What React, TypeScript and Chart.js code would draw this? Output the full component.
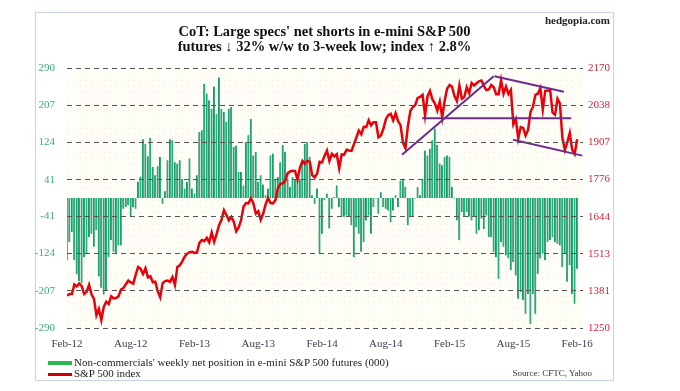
import { useEffect, useRef } from 'react';
import { Chart, registerables } from 'chart.js';

Chart.register(...registerables);

// Week index 0 = week of 21 Feb 2012, one point per week to 16 Feb 2016
const X_TICK_WEEKS = [0, 26, 52, 78, 104, 130, 156, 182, 208];
const X_TICK_LABELS = ['Feb-12', 'Aug-12', 'Feb-13', 'Aug-13', 'Feb-14', 'Aug-14', 'Feb-15', 'Aug-15', 'Feb-16'];
const LEFT_TICKS = [290, 207, 124, 41, -41, -124, -207, -290];
const RIGHT_TICKS = [2170, 2038, 1907, 1776, 1644, 1513, 1381, 1250];

// Non-commercials' weekly net position (000 contracts)
const NET_POSITION = [
  -139, -98, -76, -139, -170, -185, -190, -132, -125, -87,
  -80, -109, -72, -175, -200, -215, -205, -132, -94, -120,
  -124, -106, -106, -24, -20, -16, -42, -20, -24, 36,
  48, 131, 121, 93, 134, 69, 51, 71, 92, -13,
  15, 84, 131, 129, 80, 77, 84, 43, 21, 36,
  88, 21, 10, 51, 147, 151, 255, 233, 218, 199,
  249, 188, 269, 199, 192, 170, 199, 203, 114, 117,
  58, 58, 28, 125, 140, 177, 95, 103, 36, 51,
  30, 6, 21, 95, 99, 43, 47, 80, 118, 103,
  43, 25, 47, 40, 39, 43, 84, 121, 125, 92,
  6, -13, 21, -124, -80, -5, 10, -68, -24, 2,
  28, -20, -42, -42, -39, -42, -61, -132, -65, -80,
  -120, -98, -50, -39, -80, -20, -1, -35, 13, -20,
  -24, -28, -54, -28, 6, -20, 39, 43, 25, -61,
  -42, -42, -1, 25, 6, 43, 106, 95, 110, 129,
  155, 118, 77, 73, 92, 95, 92, 25, -1, -50,
  -94, -31, -42, -31, -42, -50, -42, -80, -72, -46,
  -69, -39, -87, -87, -120, -132, -180, -98, -109, -128,
  -135, -161, -143, -173, -225, -210, -228, -258, -214, -281,
  -214, -258, -169, -135, -124, -139, -98, -94, -87, -98,
  -102, -106, -154, -124, -187, -150, -214, -236, -158,
];

// S&P 500 index, weekly
const SP500 = [
  1365, 1370, 1370, 1404, 1397, 1408, 1398, 1370, 1378, 1403,
  1369, 1353, 1295, 1318, 1278, 1325, 1343, 1335, 1362, 1355,
  1356, 1362, 1386, 1391, 1405, 1418, 1411, 1407, 1438, 1466,
  1460, 1441, 1461, 1429, 1433, 1412, 1414, 1380, 1359, 1409,
  1416, 1418, 1413, 1430, 1402, 1466, 1472, 1486, 1503, 1513,
  1518, 1520, 1516, 1518, 1551, 1561, 1557, 1569, 1553, 1588,
  1555, 1582, 1614, 1633, 1667, 1650, 1631, 1643, 1626, 1592,
  1606, 1632, 1680, 1692, 1691, 1709, 1691, 1655, 1663, 1633,
  1655, 1688, 1710, 1692, 1691, 1703, 1745, 1760, 1762, 1771,
  1798, 1804, 1806, 1805, 1775, 1818, 1841, 1831, 1842, 1838,
  1790, 1783, 1797, 1838, 1836, 1859, 1878, 1841, 1866, 1857,
  1865, 1815, 1864, 1863, 1881, 1878, 1877, 1900, 1924, 1949,
  1936, 1962, 1961, 1985, 1967, 1978, 1978, 1925, 1931, 1955,
  1988, 2003, 2008, 1985, 2010, 1982, 1968, 1906, 1886, 1964,
  2018, 2032, 2039, 2064, 2068, 2075, 2002, 2070, 2089, 2059,
  2045, 2019, 2051, 1995, 2055, 2097, 2110, 2104, 2071, 2053,
  2108, 2061, 2067, 2102, 2081, 2117, 2108, 2116, 2123, 2126,
  2107, 2092, 2094, 2110, 2102, 2077, 2077, 2127, 2079, 2104,
  2078, 2092, 1971, 1989, 1921, 1961, 1958, 1931, 1951, 2015,
  2033, 2075, 2079, 2099, 2023, 2089, 2090, 2092, 2012, 2005,
  2061, 2044, 1922, 1880, 1907, 1940, 1880, 1865, 1918,
];

// Purple trend lines drawn on the index: [week, index level]
const TREND_RISING = [[136.6, 1863], [174.0, 2141]];
const TREND_UPPER = [[174.3, 2141], [202.6, 2086]];
const TREND_FLAT = [[144.8, 1992], [205.6, 1992]];
const TREND_LOWER = [[181.9, 1916], [210.1, 1860]];

const GREEN = '#2aae7d';
const RED = '#e8000b';
const PURPLE = '#6a2c91';
const SERIF = "'Liberation Serif', 'Times New Roman', serif";

const bgPlugin = {
  id: 'dottedBg',
  beforeDraw(chart: any) {
    const { ctx, chartArea: a } = chart;
    const pc = document.createElement('canvas');
    pc.width = 6;
    pc.height = 6;
    const p = pc.getContext('2d')!;
    p.fillStyle = '#fefdf7';
    p.fillRect(0, 0, 6, 6);
    p.fillStyle = '#f0ecd6';
    p.fillRect(2, 2, 1, 1);
    ctx.save();
    ctx.fillStyle = ctx.createPattern(pc, 'repeat');
    ctx.fillRect(a.left, a.top, a.right - a.left, a.bottom - a.top);
    ctx.restore();
  },
};

function trend(points: number[][]) {
  return {
    type: 'line' as const,
    data: points.map(([x, y]) => ({ x, y })),
    yAxisID: 'y2',
    borderColor: PURPLE,
    borderWidth: 2,
    pointRadius: 0,
    order: 0,
  };
}

export default function App() {
  const ref = useRef<HTMLCanvasElement>(null);

  useEffect(() => {
    if (!ref.current) return;
    const chart = new Chart(ref.current, {
      type: 'bar',
      data: {
        datasets: [
          trend(TREND_RISING),
          trend(TREND_UPPER),
          trend(TREND_FLAT),
          trend(TREND_LOWER),
          {
            type: 'line',
            label: 'S&P 500 index',
            data: SP500.map((v, i) => ({ x: i, y: v })),
            yAxisID: 'y2',
            borderColor: RED,
            borderWidth: 2.5,
            pointRadius: 0,
            tension: 0,
            order: 1,
          },
          {
            type: 'bar',
            label: "Non-commercials' weekly net position in e-mini S&P 500 futures (000)",
            data: NET_POSITION.map((v, i) => ({ x: i, y: v })),
            yAxisID: 'y',
            backgroundColor: GREEN,
            borderColor: '#138a5c',
            borderWidth: { left: 0.7, right: 0, top: 0, bottom: 0 },
            borderSkipped: false,
            barThickness: 1.7,
            order: 2,
          },
        ] as any,
      },
      options: {
        responsive: false,
        maintainAspectRatio: false,
        animation: false,
        layout: { padding: { left: 35, right: 66, top: 68, bottom: 38 } },
        plugins: { legend: { display: false }, tooltip: { enabled: false }, title: { display: false } },
        scales: {
          x: {
            type: 'linear',
            min: 0,
            max: 210.4,
            offset: false,
            grid: { display: false },
            border: { display: false },
            afterBuildTicks: (s: any) => {
              s.ticks = X_TICK_WEEKS.map((v) => ({ value: v }));
            },
            afterFit: (s: any) => {
              s.height = 25;
            },
            ticks: {
              autoSkip: false,
              maxRotation: 0,
              padding: 2,
              color: '#3b3b55',
              font: { family: SERIF, size: 11 },
              callback: (_v: any, i: number) => X_TICK_LABELS[i],
            },
          },
          y: {
            type: 'linear',
            position: 'left',
            min: -290,
            max: 290,
            afterBuildTicks: (s: any) => {
              s.ticks = LEFT_TICKS.map((v) => ({ value: v }));
            },
            afterFit: (s: any) => {
              s.width = 32;
            },
            grid: { color: '#555', lineWidth: 1, drawTicks: false, z: 1 },
            border: { display: false, dash: [5, 4] },
            ticks: {
              padding: 12,
              color: '#3faa80',
              font: { family: SERIF, size: 11 },
              callback: (v: any) => String(v),
            },
          },
          y2: {
            type: 'linear',
            position: 'right',
            min: 1250,
            max: 2170,
            afterBuildTicks: (s: any) => {
              s.ticks = RIGHT_TICKS.map((v) => ({ value: v }));
            },
            afterFit: (s: any) => {
              s.width = 31;
            },
            grid: { display: false, drawTicks: false },
            border: { display: false },
            ticks: {
              padding: 5,
              color: '#d0283a',
              font: { family: SERIF, size: 11 },
              callback: (v: any) => String(v),
            },
          },
        },
      } as any,
      plugins: [bgPlugin],
    });
    return () => chart.destroy();
  }, []);

  return (
    <div style={{ position: 'fixed', left: 0, top: 0, width: 680, height: 391, background: '#fff', overflow: 'hidden' }}>
      <div
        style={{
          position: 'absolute',
          left: 35,
          top: 12,
          width: 577,
          height: 367,
          border: '1px solid #c9d5e3',
          boxShadow: '0 0 1px #dde5ee',
          background: '#fff',
        }}
      />
      <canvas ref={ref} width={680} height={391} style={{ position: 'absolute', left: 0, top: 0, width: 680, height: 391 }} />
      <div
        style={{
          position: 'absolute',
          left: 35,
          width: 579,
          top: 24,
          textAlign: 'center',
          font: `bold 14.5px ${SERIF}`,
          lineHeight: '15px',
          color: '#111',
        }}
      >
        <div>CoT: Large specs' net shorts in e-mini S&amp;P 500</div>
        <div>futures ↓ 32% w/w to 3-week low; index ↑ 2.8%</div>
      </div>
      <div style={{ position: 'absolute', right: 70, top: 14, font: `bold 11px ${SERIF}`, lineHeight: '12px', color: '#222' }}>
        hedgopia.com
      </div>
      <div style={{ position: 'absolute', left: 48, top: 356, font: `11px ${SERIF}`, lineHeight: '12px', color: '#222', whiteSpace: 'nowrap' }}>
        <span style={{ display: 'inline-block', width: 24, height: 4, background: '#2bb84f', verticalAlign: 'middle', marginRight: 2 }} />
        Non-commercials' weekly net position in e-mini S&amp;P 500 futures (000)
      </div>
      <div style={{ position: 'absolute', left: 48, top: 367, font: `11px ${SERIF}`, lineHeight: '12px', color: '#222', whiteSpace: 'nowrap' }}>
        <span style={{ display: 'inline-block', width: 24, height: 3, background: '#cc0000', verticalAlign: 'middle', marginRight: 2 }} />
        S&amp;P 500 index
      </div>
      <div style={{ position: 'absolute', right: 88, top: 368, font: `9px ${SERIF}`, lineHeight: '10px', color: '#333' }}>
        Source: CFTC, Yahoo
      </div>
    </div>
  );
}
